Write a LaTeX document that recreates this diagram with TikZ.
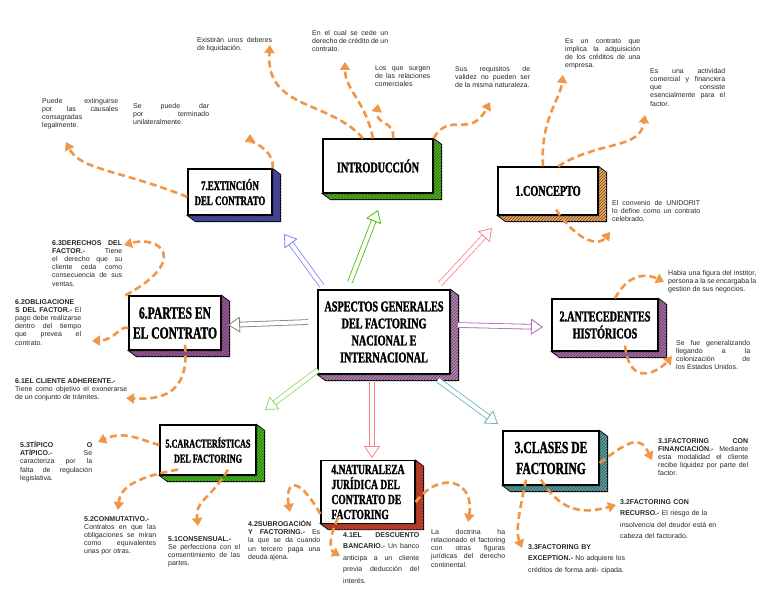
\documentclass[tikz,border=0pt]{standalone}
\usepackage{fontspec}
\setmainfont{Liberation Sans}
\newfontfamily\titlefont[FakeStretch=0.68,FakeBold=1.5]{Liberation Serif Bold}
\usetikzlibrary{arrows.meta,patterns,calc}
\definecolor{org}{RGB}{240,150,70}
\newcommand{\nohy}{\hyphenpenalty=10000\relax\exhyphenpenalty=10000\relax}
\tikzset{
 mbox/.style={draw=black,line width=1.2pt,fill=white,align=center,font=\titlefont\fontsize{15}{17}\selectfont,inner sep=4pt},
 txt/.style={align=justify,font=\fontsize{7}{8.2}\selectfont\nohy,inner sep=0pt,anchor=north west,text=black!85},
 oarr/.style={org,line width=2.6pt,dash pattern=on 7pt off 4pt,-{Triangle[length=8pt,width=10pt]}},
 harr/.style={line width=0.8pt,double=white,double distance=4pt,-{Triangle[open,length=12pt,width=16pt,line width=0.8pt]}}
}
\newcommand{\extrude}[2]{%
 \filldraw[fill=#2,draw=black,line width=0.8pt] (#1.north east) -- ([shift={(8,6)}]#1.north east) -- ([shift={(8,6)}]#1.south east) -- ([shift={(8,6)}]#1.south west) -- (#1.south west) -- (#1.south east) -- cycle;
 \fill[pattern=north east lines,pattern color=black!70] (#1.north east) -- ([shift={(8,6)}]#1.north east) -- ([shift={(8,6)}]#1.south east) -- ([shift={(8,6)}]#1.south west) -- (#1.south west) -- (#1.south east) -- cycle;}
\begin{document}
\begin{tikzpicture}[x=1pt,y=-1pt]
\useasboundingbox (0,0) rectangle (768,594);
% boxes
\node[mbox,minimum width=132,minimum height=84] (c) at (384,332) {ASPECTOS GENERALES\\DEL FACTORING\\NACIONAL E\\INTERNACIONAL};
\extrude{c}{violet!50}
\node[mbox,minimum width=110,minimum height=54] (i) at (378,166) {INTRODUCCIÓN};
\extrude{i}{green!50!olive}
\node[mbox,minimum width=100,minimum height=48] (k1) at (548,191) {1.CONCEPTO};
\extrude{k1}{orange!70}
\node[mbox,minimum width=106,minimum height=52] (k2) at (605,325) {2.ANTECEDENTES\\HISTÓRICOS};
\extrude{k2}{violet!60}
\node[mbox,minimum width=96,minimum height=54,font=\titlefont\fontsize{17}{21}\selectfont] (k3) at (551,458) {3.CLASES DE\\FACTORING};
\extrude{k3}{teal!70}
\node[mbox,minimum width=94,minimum height=56,align=left,font=\titlefont\fontsize{14}{15}\selectfont] (k4) at (368,492) {4.NATURALEZA\\JURÍDICA DEL\\CONTRATO DE\\FACTORING};
\extrude{k4}{red!60!brown}
\node[mbox,minimum width=96,minimum height=50,font=\titlefont\fontsize{12}{15}\selectfont] (k5) at (208,450) {5.CARACTERÍSTICAS\\DEL FACTORING};
\extrude{k5}{green!60!olive}
\node[mbox,minimum width=90,minimum height=54,font=\titlefont\fontsize{17}{20}\selectfont] (k6) at (175,323) {6.PARTES EN\\EL CONTRATO};
\extrude{k6}{violet!70}
\node[mbox,minimum width=84,minimum height=46,font=\titlefont\fontsize{13}{15}\selectfont] (k7) at (230,192) {7.EXTINCIÓN\\DEL CONTRATO};
\extrude{k7}{blue!50!gray}
% hollow arrows from centre
\draw[harr,green!50!olive] (350,282) -- (378,210);
\draw[harr,red!50] (440,284) -- (492,228);
\draw[harr,violet!60] (458,325) -- (543,327);
\draw[harr,teal!60] (438,380) -- (498,424);
\draw[harr,red!50] (372,382) -- (372,458);
\draw[harr,green!50!olive!60] (318,370) -- (265,410);
\draw[harr,gray] (308,322) -- (228,325);
\draw[harr,blue!50] (322,286) -- (284,234);
% texts
\node[txt,text width=75] (t1) at (197,37) {Existirán unos deberes de liquidación.};
\node[txt,text width=76] (t2) at (312,30) {En el cual se cede un derecho de crédito de un contrato.};
\node[txt,text width=55] (t3) at (375,65) {Los que surgen de las relaciones comerciales};
\node[txt,text width=75] (t4) at (455,66) {Sus requisitos de validez no pueden ser de la misma naturaleza.};
\node[txt,text width=75] (t5) at (565,38) {Es un contrato que implica la adquisición de los créditos de una empresa.};
\node[txt,text width=75] (t6) at (650,68) {Es una actividad comercial y financiera que consiste esencialmente para el factor.};
\node[txt,text width=76] (t7) at (42,98) {Puede extinguirse por las causales consagradas legalmente.};
\node[txt,text width=76] (t8) at (133,103) {Se puede dar por terminado unilateralmente.};
\node[txt,text width=88] (t9) at (612,200) {El convenio de UNIDORIT lo define como un contrato celebrado.};
\node[txt,text width=88] (t10) at (668,270) {Habia una figura del institor, persona a la se encargaba la gestion de sus negocios.};
\node[txt,text width=74] (t11) at (676,340) {Se fue generalizando llegando a la colonización de los Estados Unidos.};
\node[txt,text width=70] (t12) at (52,240) {\textbf{6.3DERECHOS DEL FACTOR.-} Tiene el derecho que su cliente ceda como consecuencia de sus ventas.};
\node[txt,text width=66] (t13) at (15,299) {\textbf{6.2OBLIGACIONE S DEL FACTOR.-} El pago debe realizarse dentro del tiempo que prevea el contrato.};
\node[txt,text width=112] (t14) at (15,378) {\textbf{6.1EL CLIENTE ADHERENTE.-}\\ Tiene como objetivo el exonerarse de un conjunto de trámites.};
\node[txt,text width=72] (t15) at (20,441) {\textbf{5.3TÍPICO O ATÍPICO.-} Se caracteriza por la falta de regulación legislativa.};
\node[txt,text width=72] (t16) at (84,516) {\textbf{5.2CONMUTATIVO.-} Contratos en que las obligaciones se miran como equivalentes unas por otras.};
\node[txt,text width=72] (t17) at (168,536) {\textbf{5.1CONSENSUAL.-} Se perfecciona con el consentimiento de las partes.};
\node[txt,text width=72] (t18) at (248,520) {\textbf{4.2SUBROGACIÓN Y FACTORING.-} Es la que se da cuando un tercero paga una deuda ajena.};
\node[txt,text width=76,font=\fontsize{7}{11.5}\selectfont\nohy] (t19) at (343,532) {\textbf{4.1EL DESCUENTO BANCARIO.-} Un banco anticipa a un cliente previa deducción del interés.};
\node[txt,text width=74] (t20) at (431,529) {La doctrina ha relacionado el factoring con otras figuras jurídicas del derecho continental.};
\node[txt,text width=112,align=left,font=\fontsize{7}{11.5}\selectfont\nohy] (t21) at (528,544) {\textbf{3.3FACTORING BY}\\\textbf{EXCEPTION.-} No adquiere los créditos de forma anti- cipada.};
\node[txt,text width=106,align=left,font=\fontsize{7}{11.5}\selectfont\nohy] (t22) at (620,499) {\textbf{3.2FACTORING CON}\\\textbf{RECURSO.-} El riesgo de la insolvencia del deudor está en cabeza del factorado.};
\node[txt,text width=90] (t23) at (658,438) {\textbf{3.1FACTORING CON FINANCIACIÓN.-} Mediante esta modalidad el cliente recibe liquidez por parte del factor.};
% orange arrows
\draw[oarr] ([xshift=-15]i.north) .. controls (330,100) and (265,110) .. (270,45);
\draw[oarr] ([xshift=-5]i.north) .. controls (365,100) and (345,90) .. (345,62);
\draw[oarr] ([xshift=15]i.north) .. controls (395,120) and (375,125) .. (378,104);
\draw[oarr] (i.north east) .. controls (450,110) and (470,140) .. (490,102);
\draw[oarr] ([xshift=-5]k1.north) .. controls (540,120) and (560,100) .. (563,75);
\draw[oarr] ([xshift=10]k1.north) .. controls (600,140) and (640,150) .. (645,115);
\draw[oarr] ([xshift=8,yshift=6]k1.south) .. controls (580,245) and (600,245) .. (610,232);
\draw[oarr] ([xshift=10]k2.north) .. controls (630,270) and (650,275) .. (664,282);
\draw[oarr] ([xshift=20,yshift=6]k2.south) .. controls (630,390) and (660,370) .. (672,356);
\draw[oarr] ([yshift=-5]k3.east) .. controls (630,440) and (640,435) .. (652,460);
\draw[oarr] ([xshift=-10,yshift=6]k3.south) .. controls (560,510) and (580,515) .. (616,505);
\draw[oarr] ([xshift=-25,yshift=6]k3.south) .. controls (520,510) and (515,530) .. (522,548);
\draw[oarr] ([yshift=-10]k4.east) .. controls (440,470) and (475,480) .. (468,522);
\draw[oarr] ([xshift=-30,yshift=6]k4.south) .. controls (328,540) and (330,550) .. (340,556);
\draw[oarr] ([yshift=-22]k4.west) .. controls (295,470) and (285,485) .. (290,512);
\draw[oarr] ([yshift=5]k5.west) .. controls (140,440) and (125,430) .. (98,442);
\draw[oarr] ([xshift=-30,yshift=6]k5.south) .. controls (130,478) and (120,490) .. (118,510);
\draw[oarr] ([xshift=20,yshift=6]k5.south) .. controls (210,500) and (195,500) .. (198,526);
\draw[oarr] ([xshift=-3]k6.north west) .. controls (190,260) and (160,235) .. (124,245);
\draw[oarr] ([yshift=-5]k6.west) .. controls (120,325) and (115,340) .. (92,341);
\draw[oarr] ([xshift=10,yshift=6]k6.south) .. controls (190,395) and (160,400) .. (126,398);
\draw[oarr] ([yshift=-5]k7.west) .. controls (120,170) and (80,170) .. (66,142);
\draw[oarr] (k7.north east) .. controls (275,150) and (250,140) .. (250,134);
\end{tikzpicture}
\end{document}
